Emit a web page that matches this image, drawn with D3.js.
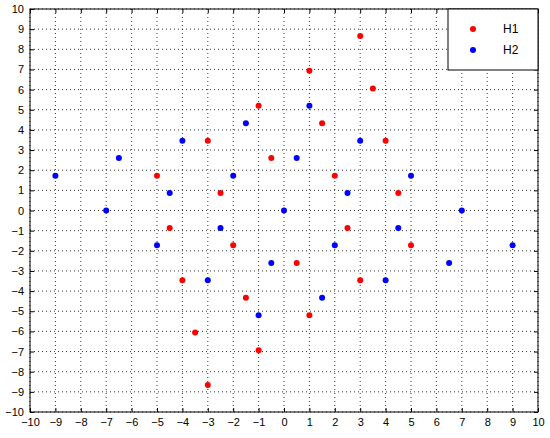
<!DOCTYPE html>
<html><head><meta charset="utf-8">
<script src="https://cdn.jsdelivr.net/npm/d3@7"></script>
<style>body{margin:0;background:#fff}text{font-family:"Liberation Sans",Arial,sans-serif;font-size:11px}</style>
</head><body><div id="chart"></div>
<script>
// H1 points (red)
const h1X = [3, 1, 3.5, -1, 1.5, -3, 4, -0.5, -5, 2, -2.5, 4.5, -4.5, 2.5, -2, 5, 0.5, -4, 3, -1.5, 1, -3.5, -1, -3];
const h1Y = [8.66, 6.93, 6.06, 5.2, 4.33, 3.46, 3.46, 2.6, 1.73, 1.73, 0.87, 0.87, -0.87, -0.87, -1.73, -1.73, -2.6, -3.46, -3.46, -4.33, -5.2, -6.06, -6.93, -8.66];
// H2 points (blue)
const h2X = [-9, -6.5, -4, -1.5, 1, 3, 0.5, -2, 5, -4.5, 2.5, -7, 0, 7, -2.5, 4.5, -5, 2, 9, -0.5, 6.5, -3, 4, 1.5, -1];
const h2Y = [1.73, 2.6, 3.46, 4.33, 5.2, 3.46, 2.6, 1.73, 1.73, 0.87, 0.87, 0, 0, 0, -0.87, -0.87, -1.73, -1.73, -1.73, -2.6, -2.6, -3.46, -3.46, -4.33, -5.2];
const ticks = d3.range(-10, 11);

const svgWidth = 550, svgHeight = 438;
const margin = {top: 9, right: 12, bottom: 26, left: 30};
const width = svgWidth - margin.left - margin.right;
const height = svgHeight - margin.top - margin.bottom;

const svg = d3.select("#chart").append("svg").attr("width", svgWidth).attr("height", svgHeight);
const g = svg.append("g").attr("transform", `translate(${margin.left},${margin.top})`);

const x = d3.scaleLinear().domain([-10, 10]).range([0, width]);
const y = d3.scaleLinear().domain([-10, 10]).range([height, 0]);

// dotted grid
g.append("g").selectAll("line").data(ticks).join("line")
    .attr("x1", d => x(d)).attr("x2", d => x(d)).attr("y1", 0).attr("y2", height)
    .attr("stroke", "#000").attr("stroke-dasharray", "1,3").attr("stroke-width", 0.8);
g.append("g").selectAll("line").data(ticks).join("line")
    .attr("y1", d => y(d)).attr("y2", d => y(d)).attr("x1", 0).attr("x2", width)
    .attr("stroke", "#000").attr("stroke-dasharray", "1,3").attr("stroke-width", 0.8);

g.append("rect").attr("width", width).attr("height", height).attr("fill", "none").attr("stroke", "#000");

const xAxis = g.append("g").attr("transform", `translate(0,${height})`)
    .call(d3.axisBottom(x).tickValues(ticks).tickSize(-4).tickPadding(6).tickFormat(d3.format("d")));
const yAxis = g.append("g")
    .call(d3.axisLeft(y).tickValues(ticks).tickSize(-4).tickPadding(6).tickFormat(d3.format("d")));
const xTop = g.append("g").call(d3.axisTop(x).tickValues(ticks).tickSize(-4).tickFormat(""));
const yRight = g.append("g").attr("transform", `translate(${width},0)`)
    .call(d3.axisRight(y).tickValues(ticks).tickSize(-4).tickFormat(""));
[xAxis, yAxis, xTop, yRight].forEach(a => {
    a.select(".domain").remove();
    a.selectAll("text").attr("fill", "#000").style("font-size", "11px");
});

const drawPts = (xs, ys, color) => g.append("g").selectAll("circle").data(xs).join("circle")
    .attr("cx", d => x(d)).attr("cy", (d, i) => y(ys[i])).attr("r", 3).attr("fill", color);
drawPts(h1X, h1Y, "#f00");
drawPts(h2X, h2Y, "#00f");

// legend
const lg = g.append("g").attr("transform", `translate(${width - 90},0)`);
lg.append("rect").attr("width", 90).attr("height", 61).attr("fill", "#fff").attr("stroke", "#000");
[["H1", "#f00"], ["H2", "#00f"]].forEach(([name, c], i) => {
    lg.append("circle").attr("cx", 25).attr("cy", 20 + i * 21).attr("r", 3).attr("fill", c);
    lg.append("text").attr("x", 55).attr("y", 24 + i * 21).text(name).style("font-size", "12px");
});
</script></body></html>
